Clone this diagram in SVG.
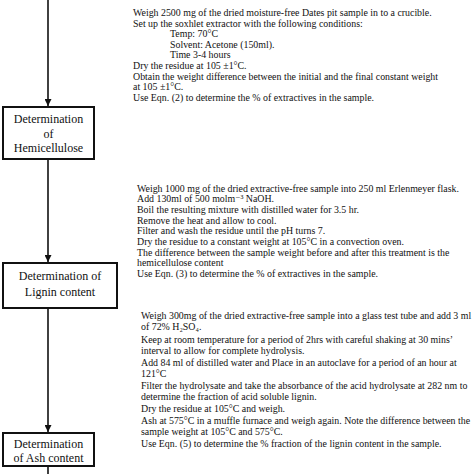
<svg xmlns="http://www.w3.org/2000/svg" width="474" height="474" viewBox="0 0 474 474">
<style>
.box{fill:#fff;stroke:#111;stroke-width:2}
.lbl{font-family:"Liberation Serif","Times New Roman",serif;font-size:12px;fill:#111;text-anchor:middle}
.txt{font-family:"Liberation Serif","DejaVu Serif","Times New Roman",serif;font-size:9.9px;fill:#111}
.con{stroke:#111;stroke-width:1.6;fill:none}
</style>
<defs>
<marker id="ah" viewBox="0 0 8 8" refX="8" refY="4" markerWidth="7" markerHeight="7" markerUnits="userSpaceOnUse" orient="auto">
<path d="M0,0 L8,4 L0,8 Z" fill="#111"/>
</marker>
</defs>
<rect width="474" height="474" fill="#fff"/>
<g id="connectors">
<line class="con" x1="48" y1="0" x2="48" y2="106" marker-end="url(#ah)"/>
<line class="con" x1="48" y1="160" x2="48" y2="262" marker-end="url(#ah)"/>
<line class="con" x1="48" y1="309" x2="48" y2="432" marker-end="url(#ah)"/>
<line class="con" x1="48" y1="467" x2="48" y2="474"/>
</g>
<g id="node-hemicellulose">
<rect class="box" x="3" y="107" width="91" height="52"/>
<text class="lbl" x="48.5" y="123">Determination</text>
<text class="lbl" x="48.5" y="138">of</text>
<text class="lbl" x="48.5" y="152">Hemicellulose</text>
</g>
<g id="node-lignin">
<rect class="box" x="3" y="263" width="114" height="45"/>
<text class="lbl" x="60" y="280">Determination of</text>
<text class="lbl" x="60" y="296">Lignin content</text>
</g>
<g id="node-ash">
<rect class="box" x="3" y="433" width="91" height="33"/>
<text class="lbl" x="48.5" y="448">Determination</text>
<text class="lbl" x="48.5" y="462">of Ash content</text>
</g>
<g id="text-extractives" class="txt">
<text x="133" y="15.5">Weigh 2500 mg of the dried moisture-free Dates pit sample in to a crucible.</text>
<text x="133" y="26.5">Set up the soxhlet extractor with the following conditions:</text>
<text x="170" y="37">Temp: 70°C</text>
<text x="170" y="47.5">Solvent: Acetone (150ml).</text>
<text x="170" y="58">Time 3-4 hours</text>
<text x="133" y="68.5">Dry the residue at 105 ±1°C.</text>
<text x="133" y="79.5">Obtain the weight difference between the initial and the final constant weight</text>
<text x="133" y="90">at 105 ±1°C.</text>
<text x="133" y="100.5">Use Eqn. (2) to determine the % of extractives in the sample.</text>
</g>
<g id="text-hemicellulose" class="txt">
<text x="137" y="191.5">Weigh 1000 mg of the dried extractive-free sample into 250 ml Erlenmeyer flask.</text>
<text x="137" y="202">Add 130ml of 500 molm⁻³ NaOH.</text>
<text x="137" y="213">Boil the resulting mixture with distilled water for 3.5 hr.</text>
<text x="137" y="223.5">Remove the heat and allow to cool.</text>
<text x="137" y="234">Filter and wash the residue until the pH turns 7.</text>
<text x="137" y="245">Dry the residue to a constant weight at 105°C in a convection oven.</text>
<text x="137" y="255.5">The difference between the sample weight before and after this treatment is the</text>
<text x="137" y="266">hemicellulose content</text>
<text x="137" y="276.5">Use Eqn. (3) to determine the % of extractives in the sample.</text>
</g>
<g id="text-lignin" class="txt">
<text x="141" y="318.5">Weigh 300mg of the dried extractive-free sample into a glass test tube and add 3 ml</text>
<text x="141" y="330">of 72% H₂SO₄.</text>
<text x="141" y="342.5">Keep at room temperature for a period of 2hrs with careful shaking at 30 mins’</text>
<text x="141" y="353.5">interval to allow for complete hydrolysis.</text>
<text x="141" y="365.5">Add 84 ml of distilled water and Place in an autoclave for a period of an hour at</text>
<text x="141" y="376.5">121°C</text>
<text x="141" y="388.5">Filter the hydrolysate and take the absorbance of the acid hydrolysate at 282 nm to</text>
<text x="141" y="399.5">determine the fraction of acid soluble lignin.</text>
<text x="141" y="411.5">Dry the residue at 105°C and weigh.</text>
<text x="141" y="423.5">Ash at 575°C in a muffle furnace and weigh again. Note the difference between the</text>
<text x="141" y="434.5">sample weight at 105°C and 575°C.</text>
<text x="141" y="446.5">Use Eqn. (5) to determine the % fraction of the lignin content in the sample.</text>
</g>
</svg>
